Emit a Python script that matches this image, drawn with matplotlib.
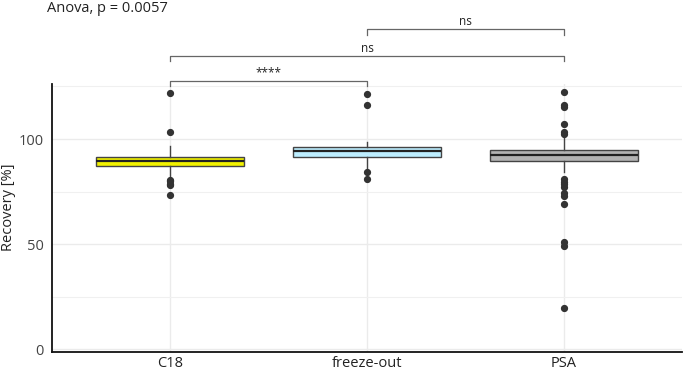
import matplotlib
matplotlib.use("Agg")
import matplotlib.pyplot as plt

plt.rcParams['font.family'] = ['Open Sans', 'DejaVu Sans']

# Daten
gruppen = ['C18', 'freeze-out', 'PSA']
q1 = [87.3, 91.3, 89.5]
median = [89.5, 94.3, 92.2]
q3 = [91.6, 96.3, 94.8]
whisker_lo = [82.0, 85.3, 84.5]
whisker_hi = [96.7, 98.7, 101.9]
ausreisser = [
    [122.0, 103.2, 80.5, 80.0, 78.6, 78.1, 73.4],
    [121.4, 116.1, 84.2, 81.1],
    [122.5, 116.0, 115.3, 107.3, 103.5, 102.4, 81.1, 79.7, 78.5, 77.0,
     74.2, 73.0, 69.0, 51.0, 49.3, 19.6],
]
farben = ['#f2f200', '#bdeeff', '#b3b3b3']

# Vergleiche: (von, bis, Höhe Linie, Label)
vergleiche = [(1, 2, 127.7, '****'), (1, 3, 139.6, 'ns'), (2, 3, 152.1, 'ns')]
anova_text = 'Anova, p = 0.0057'

stats = []
for i, g in enumerate(gruppen):
    stats.append(dict(label=g, q1=q1[i], med=median[i], q3=q3[i],
                      whislo=whisker_lo[i], whishi=whisker_hi[i],
                      fliers=ausreisser[i]))

fig = plt.figure(figsize=(6.85, 3.72), dpi=100, facecolor='white')
ax = fig.add_axes([0.0759, 0.0538, 0.92, 0.720])

bp = ax.bxp(stats, positions=[1, 2, 3], widths=0.75, patch_artist=True,
            boxprops=dict(edgecolor='#444444', linewidth=1.0),
            medianprops=dict(color='#222222', linewidth=1.6),
            whiskerprops=dict(color='#444444', linewidth=1.0),
            capprops=dict(linewidth=0),
            flierprops=dict(marker='o', markersize=4.2, markerfacecolor='#333333',
                            markeredgecolor='#333333'),
            zorder=3)
for patch, f in zip(bp['boxes'], farben):
    patch.set_facecolor(f)

ax.set_xlim(0.4, 3.6)
ax.set_ylim(-1.2, 126.1)
ax.set_yticks([0, 50, 100])
ax.set_yticks([25, 75, 125], minor=True)
ax.set_xticks([1, 2, 3])
ax.set_xticklabels(gruppen)
ax.grid(True, which='major', color='#ebebeb', linewidth=1.0, zorder=0)
ax.grid(True, which='minor', axis='y', color='#f0f0f0', linewidth=0.8, zorder=0)
ax.set_axisbelow(True)
ax.tick_params(axis='both', which='both', length=0, labelsize=10.5, colors='#222222')
ax.tick_params(axis='x', pad=3)
ax.tick_params(axis='y', pad=6, labelcolor='#444444')
for s in ['top', 'right']:
    ax.spines[s].set_visible(False)
for s in ['left', 'bottom']:
    ax.spines[s].set_linewidth(1.3)
    ax.spines[s].set_color('#111111')
ax.set_ylabel('Recovery [%]', fontsize=10.5, color='#222222', va='center')
ax.yaxis.set_label_coords(-0.069, 0.54)

# Signifikanzklammern
for a, b, h, lab in vergleiche:
    ax.plot([a, a, b, b], [h - 2.6, h, h, h - 2.6], color='#666666', linewidth=0.9,
            clip_on=False)
    ax.text((a + b) / 2, h + 2.0, lab, ha='center', va='baseline', fontsize=8.5,
            color='#222222', clip_on=False)

fig.text(47 / 685, 1 - 8 / 372, anova_text, ha='left', va='center', fontsize=10.5,
         color='#222222')

fig.savefig('out.png', dpi=100, facecolor='white')
